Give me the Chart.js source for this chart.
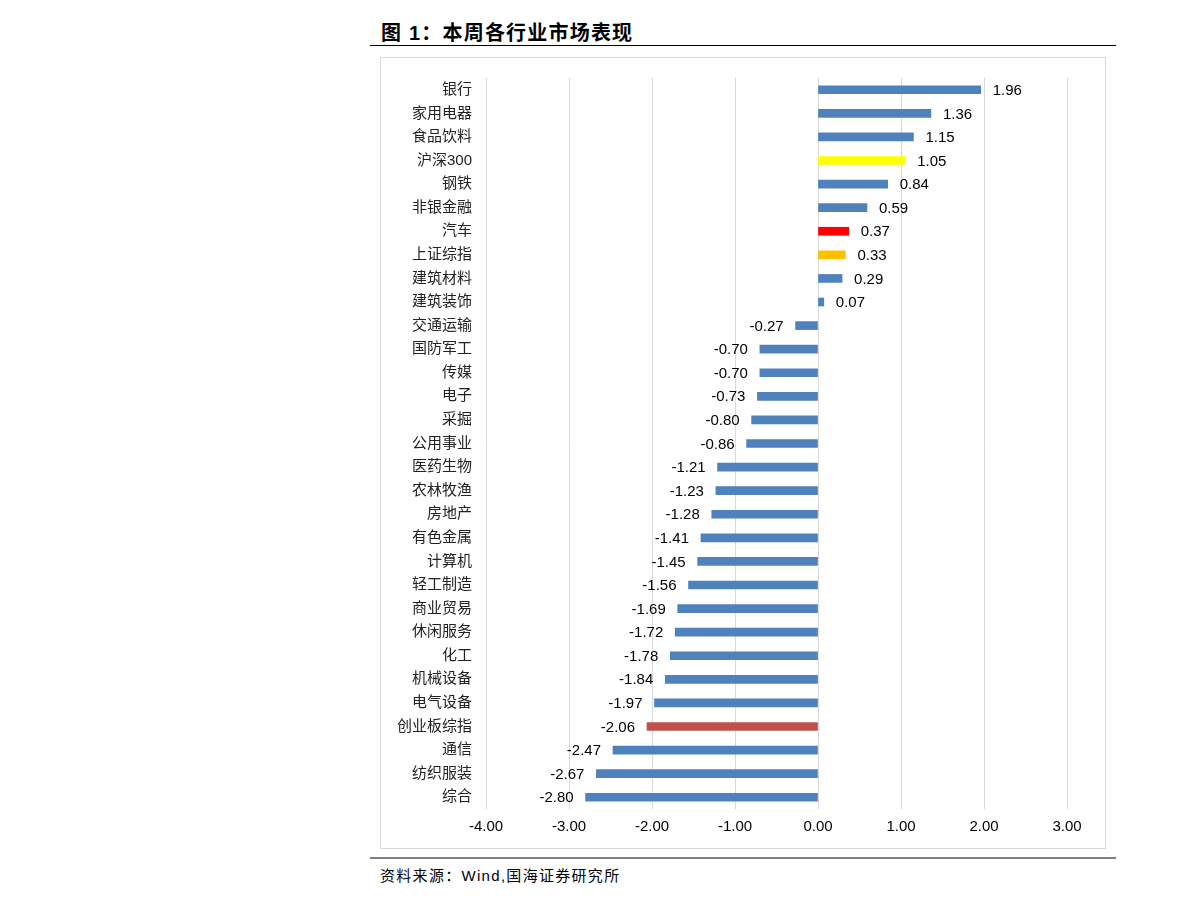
<!DOCTYPE html>
<html>
<head>
<meta charset="utf-8">
<script src="https://cdn.jsdelivr.net/npm/chart.js@4/dist/chart.umd.min.js"></script>
<style>
  body { margin: 0; background: #fff; width: 1191px; height: 905px; position: relative; overflow: hidden; }
  #titulo { position: absolute; left: 381px; top: 17px; font: bold 20px "Liberation Sans", "Noto Sans CJK SC"; letter-spacing: 1.2px; color: #000; }
  #linhaTopo { position: absolute; left: 370px; top: 45px; width: 746px; height: 1px; background: #000; }
  #caixa { position: absolute; left: 380px; top: 57px; width: 724px; height: 790px; border: 1px solid #d9d9d9; }
  #linhaBase { position: absolute; left: 370px; top: 857px; width: 746px; height: 2px; background: #808080; }
  #fonte { position: absolute; left: 380px; top: 864px; font: 15px "Liberation Sans", "Noto Sans CJK SC"; letter-spacing: 1.3px; color: #000; }
  #grafico { position: absolute; left: 0; top: 0; }
</style>
</head>
<body>
<div id="titulo">图 1：本周各行业市场表现</div>
<div id="linhaTopo"></div>
<div id="caixa"></div>
<div id="linhaBase"></div>
<div id="fonte">资料来源：Wind,国海证券研究所</div>
<canvas id="grafico" width="1191" height="905"></canvas>
<script>
const setores = ["银行", "家用电器", "食品饮料", "沪深300", "钢铁", "非银金融", "汽车", "上证综指", "建筑材料", "建筑装饰",
  "交通运输", "国防军工", "传媒", "电子", "采掘", "公用事业", "医药生物", "农林牧渔", "房地产", "有色金属",
  "计算机", "轻工制造", "商业贸易", "休闲服务", "化工", "机械设备", "电气设备", "创业板综指", "通信", "纺织服装", "综合"]
const valores = [1.96, 1.36, 1.15, 1.05, 0.84, 0.59, 0.37, 0.33, 0.29, 0.07,
  -0.27, -0.70, -0.70, -0.73, -0.80, -0.86, -1.21, -1.23, -1.28, -1.41,
  -1.45, -1.56, -1.69, -1.72, -1.78, -1.84, -1.97, -2.06, -2.47, -2.67, -2.80]
const ticksX = [-4, -3, -2, -1, 0, 1, 2, 3]

const cores = setores.map(s => {
    if (s === "沪深300") return "#FFFF00"
    if (s === "汽车") return "#FF0000"
    if (s === "上证综指") return "#FFC000"
    if (s === "创业板综指") return "#C0504D"
    return "#4F81BD"
})

// rótulos de valor ao lado de cada barra
const rotulos = {
    id: 'rotulos',
    afterDatasetsDraw(chart) {
        const c = chart.ctx
        const meta = chart.getDatasetMeta(0)
        c.save()
        c.font = '15px "Liberation Sans", Arial'
        c.fillStyle = '#000'
        c.textBaseline = 'middle'
        meta.data.forEach((bar, i) => {
            const v = valores[i]
            if (v >= 0) {
                c.textAlign = 'left'
                c.fillText(v.toFixed(2), bar.x + 12, bar.y + 1)
            } else {
                c.textAlign = 'right'
                c.fillText(v.toFixed(2), bar.x - 12, bar.y + 1)
            }
        })
        c.restore()
    }
}

new Chart(document.getElementById('grafico'), {
    type: 'bar',
    data: {
        labels: setores,
        datasets: [{
            data: valores,
            backgroundColor: cores,
            barThickness: 8,
            borderWidth: 0
        }]
    },
    options: {
        indexAxis: 'y',
        responsive: false,
        animation: false,
        layout: { padding: { left: 381, right: 124, top: 78, bottom: 66 } },
        plugins: { legend: { display: false }, tooltip: { enabled: false } },
        scales: {
            x: {
                min: -4,
                max: 3,
                afterBuildTicks: axis => { axis.ticks = ticksX.map(v => ({ value: v })) },
                afterFit: axis => { axis.height = 30 },
                grid: { color: '#d9d9d9', lineWidth: 1, drawTicks: false },
                border: { display: false },
                ticks: {
                    padding: 9,
                    color: '#000',
                    font: { family: '"Liberation Sans", Arial', size: 15 },
                    callback: v => v.toFixed(2)
                }
            },
            y: {
                afterFit: axis => { axis.width = 105 },
                grid: { display: false, drawTicks: false },
                border: { display: false },
                ticks: {
                    padding: 14,
                    autoSkip: false,
                    color: '#222',
                    font: { family: '"Liberation Sans", "Noto Sans CJK SC"', size: 15 }
                }
            }
        }
    },
    plugins: [rotulos]
})
</script>
</body>
</html>
